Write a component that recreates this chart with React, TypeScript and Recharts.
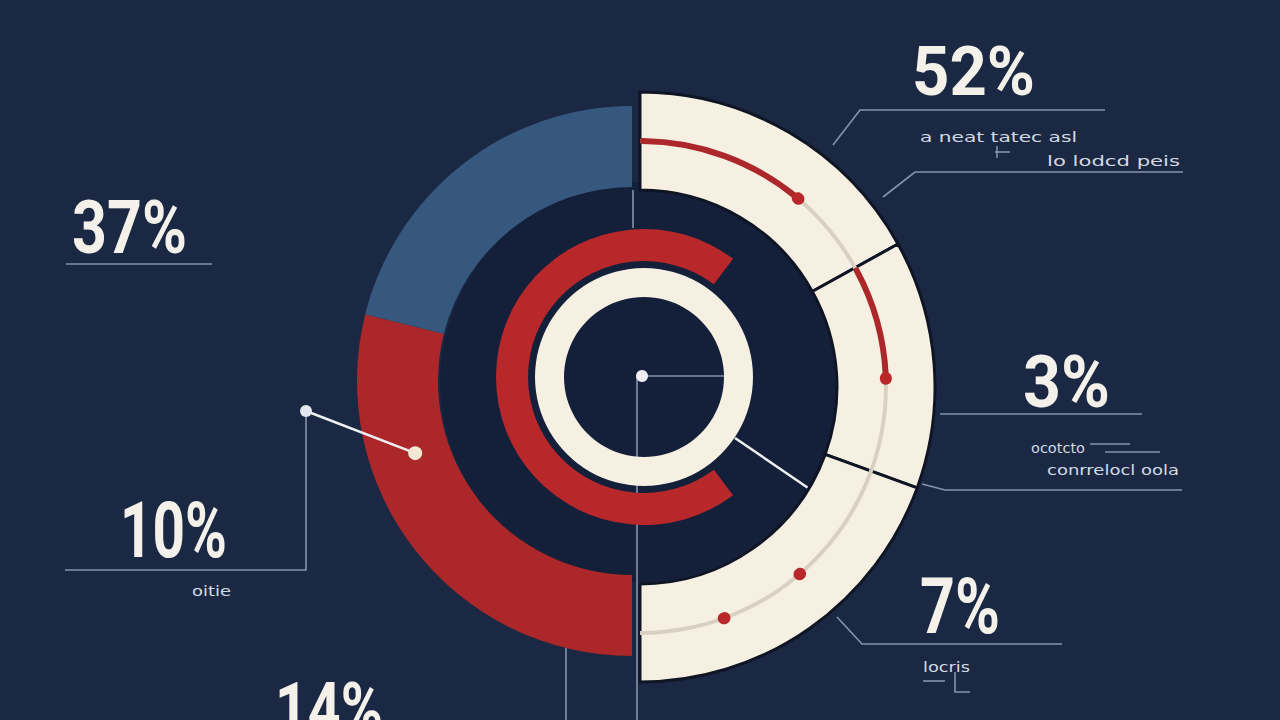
import React from 'react';
import { PieChart, Pie, Cell, Customized } from 'recharts';

// sweep of each ring piece, in degrees
const leftRingNames = ['blue', 'red'];
const leftRingValues = [76, 104];
const rightRingNames = ['52%', '3%', '7%'];
const rightRingValues = [61, 49, 70];
const innerArcValues = [254];
// red strokes running along the cream ring: red, gap, red, gap
const progressValues = [40, 21, 27, 92];
// where the red markers sit on the cream ring
const dotAngles = [50, 2, -49.5, -70];
// where the left pointer touches the red piece
const pointerAngle = 198.4;

const percentLabels = ['52%', '37%', '3%', '10%', '7%', '14%'];
const captions = ['a neat tatec asl', 'lo lodcd peis', 'ocotcto', 'conrrelocl oola', 'oitie', 'locris'];

const BG = '#1b2843';
const DISK = '#14203a';
const CREAM = '#f5f0e2';
const RED = '#ab2729';
const RED_BRIGHT = '#b8282a';
const BLUE = '#37587e';
const LINE = '#8593ab';

const percentLayout = [
  { x: 912, y: 95, w: 123, size: 68 },
  { x: 72, y: 253, w: 115, size: 74 },
  { x: 1023, y: 407, w: 87, size: 73 },
  { x: 120, y: 557, w: 107, size: 77 },
  { x: 920, y: 633, w: 80, size: 77 },
  { x: 275, y: 734, w: 108, size: 73 },
];

const captionLayout = [
  { x: 920, y: 142, w: 157 },
  { x: 1047, y: 166, w: 133 },
  { x: 1031, y: 453, w: 54 },
  { x: 1047, y: 475, w: 132 },
  { x: 192, y: 596, w: 39 },
  { x: 923, y: 672, w: 47 },
];

const leaderLines = [
  '66,264 212,264',
  '65,570 306,570 306,411',
  '833,145 860,110 1105,110',
  '883,197 915,172 1183,172',
  '940,414 1142,414',
  '922,484 945,490 1182,490',
  '837,617 862,644 1062,644',
  '642,376 725,376',
  '637,376 637,720',
  '633,190 633,228',
  '566,630 566,720',
  '1090,444 1130,444',
  '1105,452 1160,452',
  '923,681 945,681',
  '955,672 955,692 970,692',
  '997,146 997,158',
  '995,152 1010,152',
];

const DOT = 3;
const dotSegments = (() => {
  const segs: { v: number; dot: boolean }[] = [];
  let prev = 90;
  dotAngles.forEach((a) => {
    segs.push({ v: prev - (a + DOT / 2), dot: false });
    segs.push({ v: DOT, dot: true });
    prev = a - DOT / 2;
  });
  segs.push({ v: prev + 90, dot: false });
  return segs;
})();

const leftData = leftRingNames.map((name, i) => ({ name, v: leftRingValues[i] }));
const rightData = rightRingNames.map((name, i) => ({ name, v: rightRingValues[i] }));
const innerData = innerArcValues.map((v) => ({ v }));
const progressData = progressValues.map((v, i) => ({ v, on: i % 2 === 0 }));
const full = [{ v: 1 }];

const LEFT_CX = 632;
const LEFT_CY = 381;

// pointer from the 10% callout into the red piece, drawn above the ring
const renderPointer = (props: any) => {
  if (props.index !== 1) return null;
  const cx = typeof props.cx === 'number' ? props.cx : LEFT_CX;
  const cy = typeof props.cy === 'number' ? props.cy : LEFT_CY;
  const r = (props.innerRadius + props.outerRadius) / 2 - 6;
  const rad = (pointerAngle * Math.PI) / 180;
  const x = cx + r * Math.cos(rad);
  const y = cy - r * Math.sin(rad);
  return (
    <g>
      <line x1={306} y1={411} x2={x} y2={y} stroke="#eef0f2" strokeWidth={2.5} />
      <circle cx={306} cy={411} r={6} fill="#e4e8ee" />
      <circle cx={x} cy={y} r={7} fill="#f3e8d6" />
    </g>
  );
};

const Overlay = () => (
  <g>
    <circle cx={640} cy={382} r={200} fill={DISK} />
    {leaderLines.map((pts, i) => (
      <polyline key={i} points={pts} fill="none" stroke={LINE} strokeWidth={1.6} />
    ))}
    <rect x={562} y={624} width={8} height={7} fill="none" stroke="#c9a9a0" strokeWidth={1} />
    <line x1={735} y1={438} x2={814} y2={492} stroke="#eef0f2" strokeWidth={2.5} />
    {percentLabels.map((t, i) => {
      const p = percentLayout[i];
      return (
        <text
          key={t}
          x={p.x}
          y={p.y}
          fontFamily="Roboto, 'Liberation Sans', sans-serif"
          fontWeight={700}
          fontSize={p.size}
          fill="#f4f1ea"
          textLength={p.w}
          lengthAdjust="spacingAndGlyphs"
        >
          {t}
        </text>
      );
    })}
    {captions.map((t, i) => {
      const c = captionLayout[i];
      return (
        <text
          key={t}
          x={c.x}
          y={c.y}
          fontFamily="'DejaVu Sans', sans-serif"
          fontSize={14}
          fill="#d3d9e2"
          textLength={c.w}
          lengthAdjust="spacingAndGlyphs"
        >
          {t}
        </text>
      );
    })}
  </g>
);

export default function App() {
  return (
    <div style={{ position: 'absolute', left: 0, top: 0, width: 1280, height: 720, background: BG }}>
      <PieChart width={1280} height={720} margin={{ top: 0, right: 0, bottom: 0, left: 0 }}>
        <Customized component={Overlay} />
        <Pie data={leftData} dataKey="v" cx={LEFT_CX} cy={LEFT_CY} innerRadius={194} outerRadius={275}
          startAngle={90} endAngle={270} stroke="none" label={renderPointer} labelLine={false}
          isAnimationActive={false}>
          <Cell fill={BLUE} />
          <Cell fill={RED} />
        </Pie>
        <Pie data={rightData} dataKey="v" cx={640} cy={387} innerRadius={197} outerRadius={295}
          startAngle={90} endAngle={-90} stroke="#0f1524" strokeWidth={3} isAnimationActive={false}>
          {rightData.map((d) => (
            <Cell key={d.name} fill={CREAM} />
          ))}
        </Pie>
        <Pie data={full} dataKey="v" cx={640} cy={387} innerRadius={244} outerRadius={248}
          startAngle={90} endAngle={-90} fill="#d8d1c2" stroke="none" isAnimationActive={false} />
        <Pie data={progressData} dataKey="v" cx={640} cy={387} innerRadius={243} outerRadius={249}
          startAngle={90} endAngle={-90} stroke="none" cornerRadius={3} isAnimationActive={false}>
          {progressData.map((d, i) => (
            <Cell key={i} fill={d.on ? RED : 'none'} />
          ))}
        </Pie>
        <Pie data={dotSegments} dataKey="v" cx={640} cy={387} innerRadius={240} outerRadius={252}
          startAngle={90} endAngle={-90} stroke="none" cornerRadius={6} isAnimationActive={false}>
          {dotSegments.map((d, i) => (
            <Cell key={i} fill={d.dot ? RED_BRIGHT : 'none'} />
          ))}
        </Pie>
        <Pie data={innerData} dataKey="v" cx={644} cy={377} innerRadius={116} outerRadius={148}
          startAngle={53} endAngle={307} fill={RED_BRIGHT} stroke="none" isAnimationActive={false} />
        <Pie data={full} dataKey="v" cx={644} cy={377} innerRadius={80} outerRadius={109}
          fill={CREAM} stroke="none" isAnimationActive={false} />
        <Pie data={full} dataKey="v" cx={642} cy={376} innerRadius={0} outerRadius={6}
          fill="#eef0f2" stroke="none" isAnimationActive={false} />
      </PieChart>
    </div>
  );
}
